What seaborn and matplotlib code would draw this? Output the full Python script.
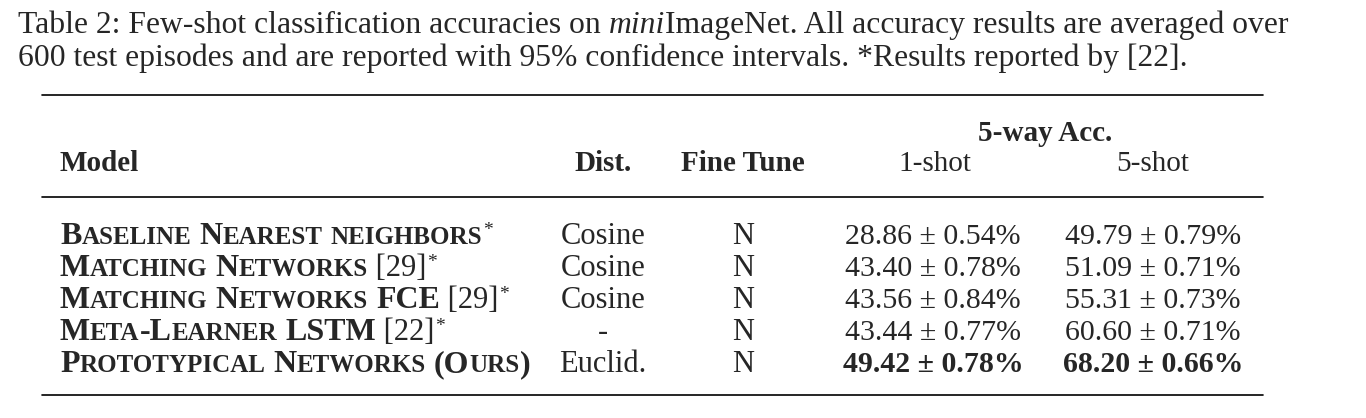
import matplotlib
matplotlib.use("Agg")
import matplotlib.pyplot as plt
import seaborn as sns

sns.set_theme(style="white")
plt.rcParams['font.family'] = ['Liberation Serif', 'DejaVu Serif']

models = ["Baseline Nearest neighbors", "Matching Networks", "Matching Networks FCE",
          "Meta-Learner LSTM", "Prototypical Networks (Ours)"]
refs = ["", " [29]", " [29]", " [22]", ""]
starred = [True, True, True, True, False]
dists = ["Cosine", "Cosine", "Cosine", "-", "Euclid."]
fine_tune = ["N", "N", "N", "N", "N"]
one_shot = [(28.86, 0.54), (43.40, 0.78), (43.56, 0.84), (43.44, 0.77), (49.42, 0.78)]
five_shot = [(49.79, 0.79), (51.09, 0.71), (55.31, 0.73), (60.60, 0.71), (68.20, 0.66)]
best_row = 4

fig = plt.figure(figsize=(13.66, 4.18), dpi=100)
ax = fig.add_axes([0, 0, 1, 1])
ax.set_xlim(0, 1366)
ax.set_ylim(418, 0)
ax.axis("off")
fig.canvas.draw()
renderer = fig.canvas.get_renderer()

CAP = 22.8
SC_BIG, SC_SMALL = 23, 18


def put(x, y, s, size=21, weight="normal", style="normal", ha="left"):
    t = ax.text(x, y, s, fontsize=size, fontweight=weight, fontstyle=style,
                ha=ha, va="baseline")
    bb = t.get_window_extent(renderer)
    return x + bb.width * 1366 / fig.bbox.width


def small_caps(x, y, s):
    for word_i, word in enumerate(s.split(" ")):
        if word_i:
            x = put(x, y, " ", SC_BIG, "bold")
        run, upper = "", None
        for ch in word:
            u = not ch.islower()
            if upper is not None and u != upper:
                x = put(x, y, run if upper else run.upper(), SC_BIG if upper else SC_SMALL, "bold")
                run = ""
            run += ch
            upper = u
        if run:
            x = put(x, y, run if upper else run.upper(), SC_BIG if upper else SC_SMALL, "bold")
    return x


# caption
x = put(18, 33, "Table 2: Few-shot classification accuracies on ", CAP)
x = put(x, 33, "mini", CAP, style="italic")
put(x, 33, "ImageNet. All accuracy results are averaged over", CAP)
put(18, 66, "600 test episodes and are reported with 95% confidence intervals. *Results reported by [22].", CAP)

# rules
for y in (95, 197, 395):
    ax.plot([42, 1263], [y, y], color="black", lw=1.2)

# header
put(1045, 141, "5-way Acc.", 21, weight="bold", ha="center")
put(60, 171, "Model", 21, weight="bold")
put(603, 171, "Dist.", 21, weight="bold", ha="center")
put(743, 171, "Fine Tune", 21, weight="bold", ha="center")
put(935, 171, "1-shot", 21, ha="center")
put(1153, 171, "5-shot", 21, ha="center")

for i, m in enumerate(models):
    y = 244 + 32 * i
    x = small_caps(60, y, m)
    if refs[i]:
        x = put(x, y, refs[i], 22)
    if starred[i]:
        put(x + 1, y - 9, "*", size=14)
    put(603, y, dists[i], 22, ha="center")
    put(743, y, fine_tune[i], 22, ha="center")
    w = "bold" if i == best_row else "normal"
    put(933, y, f"{one_shot[i][0]:.2f} ± {one_shot[i][1]:.2f}%", 21.5, weight=w, ha="center")
    put(1153, y, f"{five_shot[i][0]:.2f} ± {five_shot[i][1]:.2f}%", 21.5, weight=w, ha="center")

fig.savefig("out.png", dpi=100, facecolor="white")
